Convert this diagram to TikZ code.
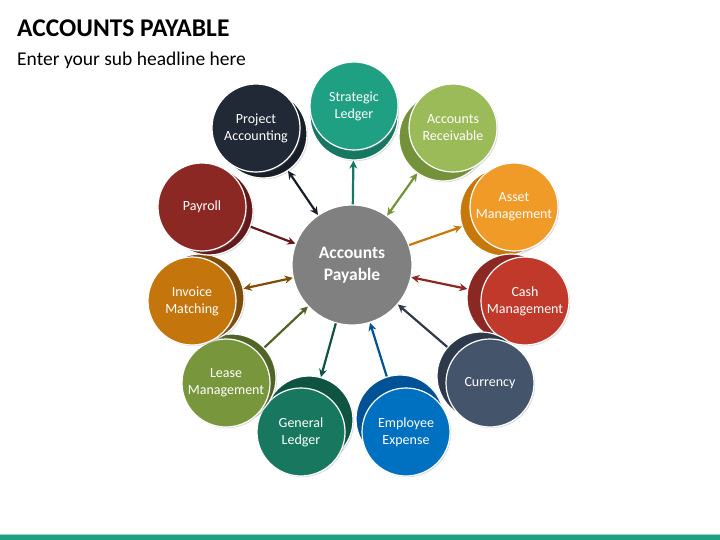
\documentclass[tikz,border=0pt]{standalone}
\usepackage{fontspec}
\setmainfont{Carlito}
\usetikzlibrary{arrows.meta,shadows}
\definecolor{hubcol}{RGB}{128,128,128}
\definecolor{barcol}{RGB}{32,160,130}
\definecolor{frontsl}{RGB}{32,160,130}  \definecolor{darksl}{RGB}{22,120,98}
\definecolor{frontar}{RGB}{155,187,89}  \definecolor{darkar}{RGB}{116,146,58}
\definecolor{frontas}{RGB}{240,155,40}  \definecolor{darkas}{RGB}{200,120,10}
\definecolor{frontca}{RGB}{192,57,43}   \definecolor{darkca}{RGB}{140,40,35}
\definecolor{frontcu}{RGB}{68,84,106}   \definecolor{darkcu}{RGB}{46,58,76}
\definecolor{frontee}{RGB}{0,112,192}   \definecolor{darkee}{RGB}{0,82,150}
\definecolor{frontgl}{RGB}{24,120,95}   \definecolor{darkgl}{RGB}{15,84,64}
\definecolor{frontle}{RGB}{120,150,60}  \definecolor{darkle}{RGB}{80,100,40}
\definecolor{frontim}{RGB}{196,118,12}  \definecolor{darkim}{RGB}{128,76,10}
\definecolor{frontpy}{RGB}{140,40,35}   \definecolor{darkpy}{RGB}{100,26,26}
\definecolor{frontpa}{RGB}{33,41,54}    \definecolor{darkpa}{RGB}{24,30,40}

\begin{document}
\begin{tikzpicture}[x=1pt, y=-1pt,
  sat/.style={circle, fill=#1, draw=white, line width=1.2pt,
              minimum size=88pt, inner sep=0pt, text=white, align=center,
              font=\fontsize{14}{17}\selectfont,
              drop shadow={opacity=0.3, shadow xshift=1.2pt, shadow yshift=-1.2pt}},
  hub/.style={circle, fill=hubcol, draw=white, line width=1.2pt,
              minimum size=120pt, inner sep=0pt, text=white, align=center,
              font=\fontsize{17.5}{22}\selectfont\bfseries},
  ar/.style={draw=#1, line width=2.2pt, >={Stealth[length=8pt,width=8pt]}}
]
\useasboundingbox (0,0) rectangle (720,540);

\node[anchor=base west, inner sep=0pt, font=\fontsize{25.5}{30}\selectfont\bfseries] (title) at (17,37) {ACCOUNTS PAYABLE};
\node[anchor=base west, inner sep=0pt, font=\fontsize{19.5}{24}\selectfont] (sub) at (17,66) {Enter your sub headline here};

% satellites, back circle first
\node[sat=darksl]  (sl-b) at (354,116) {};
\node[sat=frontsl] (sl)   at (354,106) {Strategic\\Ledger};
\node[sat=darkar]  (ar-b) at (443,137) {};
\node[sat=frontar] (ar)   at (453,128) {Accounts\\Receivable};
\node[sat=darkas]  (as-b) at (504,212) {};
\node[sat=frontas] (as)   at (514,207) {Asset\\Management};
\node[sat=darkca]  (ca-b) at (511,298) {};
\node[sat=frontca] (ca)   at (525,301) {Cash\\Management};
\node[sat=darkcu]  (cu-b) at (481,376) {};
\node[sat=frontcu] (cu)   at (490,383) {Currency};
\node[sat=darkee]  (ee-b) at (400,419) {};
\node[sat=frontee] (ee)   at (406,432) {Employee\\Expense};
\node[sat=darkgl]  (gl-b) at (309,420) {};
\node[sat=frontgl] (gl)   at (301,432) {General\\Ledger};
\node[sat=darkle]  (le-b) at (232,378) {};
\node[sat=frontle] (le)   at (226,383) {Lease\\Management};
\node[sat=darkim]  (im-b) at (200,298) {};
\node[sat=frontim] (im)   at (192,301) {Invoice\\Matching};
\node[sat=darkpy]  (py-b) at (209,211) {};
\node[sat=frontpy] (py)   at (202,207) {Payroll};
\node[sat=darkpa]  (pa-b) at (263,134) {};
\node[sat=frontpa] (pa)   at (256,128) {Project\\Accounting};

\node[hub] (ap) at (352,265) {Accounts\\Payable};

\foreach \s in {sl,as,gl}
  \draw[ar=dark\s, ->] (ap) -- (\s-b);
\foreach \s in {cu,ee,le,py}
  \draw[ar=dark\s, <-] (ap) -- (\s-b);
\foreach \s in {pa,ar,ca,im}
  \draw[ar=dark\s, <->] (ap) -- (\s-b);

% footer bar
\fill[barcol!45] (0,534) rectangle (720,535);
\fill[barcol] (0,535) rectangle (720,540);

\end{tikzpicture}
\end{document}
